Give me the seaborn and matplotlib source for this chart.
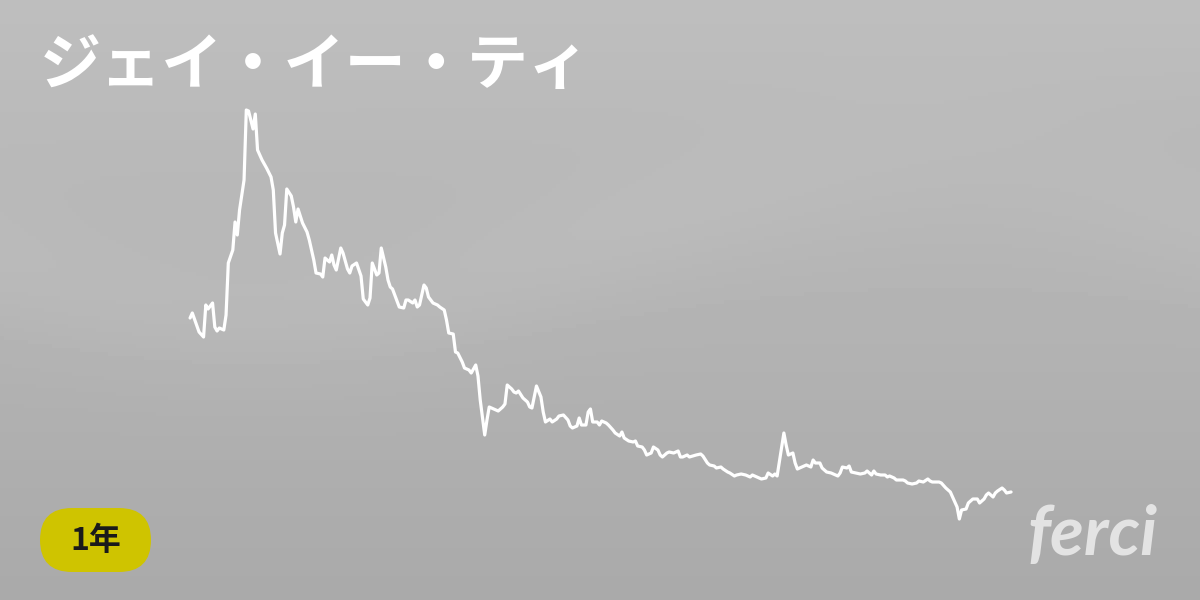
import numpy as np
import pandas as pd
import matplotlib
matplotlib.use("Agg")
import matplotlib.pyplot as plt
from matplotlib.patches import FancyBboxPatch
import seaborn as sns

# stock name, period badge and logo
title = "ジェイ・イー・ティ"
period = "1年"
logo = "ferci"

# calendar day within the year (0 = one year ago)
days = [0, 1, 4, 6, 7, 8, 10, 11, 12, 13, 15, 16, 17, 19, 20, 21, 22, 24, 25, 26,
        28, 29, 30, 32, 34, 36, 37, 38, 40, 41, 42, 43, 45, 46, 47, 48, 50, 52, 53, 55,
        56, 58, 59, 60, 62, 63, 64, 65, 67, 68, 70, 71, 72, 74, 76, 77, 79, 80, 81, 83,
        84, 85, 87, 88, 89, 90, 92, 93, 95, 96, 97, 99, 100, 101, 102, 104, 105, 106, 108, 110,
        111, 113, 114, 115, 117, 118, 119, 121, 122, 124, 125, 127, 128, 129, 131, 132, 133, 135, 137, 139,
        140, 141, 143, 144, 145, 146, 148, 150, 151, 152, 154, 156, 157, 158, 160, 161, 163, 164, 166, 168,
        169, 170, 172, 173, 174, 176, 177, 178, 179, 181, 182, 183, 185, 186, 188, 189, 191, 192, 193, 195,
        197, 198, 199, 201, 202, 203, 205, 206, 208, 209, 210, 212, 213, 215, 217, 218, 219, 221, 222, 225,
        227, 228, 230, 231, 233, 234, 236, 237, 239, 240, 242, 243, 245, 247, 249, 250, 252, 254, 256, 257,
        259, 260, 261, 264, 265, 266, 268, 269, 270, 272, 274, 276, 277, 278, 280, 281, 283, 285, 286, 288,
        289, 290, 292, 293, 294, 296, 298, 300, 301, 303, 304, 305, 307, 309, 310, 311, 313, 314, 317, 318,
        319, 321, 323, 324, 326, 328, 329, 330, 333, 334, 336, 338, 339, 341, 342, 343, 345, 346, 348, 350,
        351, 353, 354, 355, 357, 358, 359, 361, 362, 363, 365]

# closing price (relative units)
price = [282, 287, 268, 263, 295, 291, 297, 273, 269, 272, 270, 285, 337, 350, 378, 365, 390, 420, 490, 489,
         471, 486, 450, 440, 432, 423, 410, 367, 346, 367, 375, 411, 404, 393, 378, 391, 377, 368, 360, 340,
         327, 326, 323, 342, 338, 345, 335, 330, 352, 347, 331, 327, 334, 337, 324, 301, 295, 302, 337, 325,
         327, 352, 333, 320, 313, 311, 299, 293, 292, 300, 300, 297, 300, 293, 295, 315, 312, 303, 297, 295,
         293, 290, 280, 267, 266, 248, 247, 238, 232, 230, 227, 235, 224, 200, 165, 180, 193, 191, 189, 193,
         196, 215, 211, 208, 207, 209, 202, 198, 193, 192, 214, 203, 188, 178, 181, 178, 181, 184, 185, 180,
         174, 172, 174, 182, 175, 175, 188, 191, 178, 178, 175, 179, 177, 175, 170, 167, 164, 168, 162, 159,
         158, 159, 154, 153, 150, 145, 147, 153, 150, 145, 143, 147, 148, 147, 149, 143, 143, 145, 143, 145,
         146, 144, 137, 135, 134, 132, 133, 131, 128, 127, 124, 125, 126, 125, 123, 125, 123, 121, 122, 127,
         124, 126, 124, 167, 155, 145, 147, 137, 131, 133, 135, 133, 140, 137, 137, 132, 128, 127, 126, 124,
         127, 133, 132, 134, 128, 127, 126, 127, 129, 125, 129, 126, 125, 125, 123, 124, 122, 120, 120, 119,
         117, 116, 117, 119, 118, 121, 119, 118, 118, 117, 112, 108, 103, 93, 81, 90, 91, 97, 101, 101,
         97, 101, 105, 107, 103, 107, 109, 112, 110, 107, 108]

df = pd.DataFrame({"day": days, "price": price})

sns.set_theme(style="white")
plt.rcParams["font.family"] = ["Noto Sans CJK JP", "DejaVu Sans"]

fig = plt.figure(figsize=(12, 6), dpi=100)

# soft grey backdrop with a faint diagonal wave
bg = fig.add_axes([0, 0, 1, 1])
xx, yy = np.meshgrid(np.linspace(0, 1, 300), np.linspace(0, 1, 150))
shade = 0.745 - 0.08 * yy
shade += 0.018 * np.exp(-((yy - 0.40 - 0.12 * np.sin(xx * 5.5 + 0.4)) / 0.12) ** 2)
shade -= 0.012 * np.exp(-((xx - 0.85) / 0.25) ** 2 - ((yy - 0.28) / 0.12) ** 2)
bg.imshow(shade, cmap="gray", vmin=0, vmax=1, aspect="auto", extent=(0, 1, 1, 0))
bg.set_axis_off()

ax = fig.add_axes([0, 0, 1, 1])
ax.patch.set_alpha(0)
sns.lineplot(data=df, x="day", y="price", estimator=None, color="white",
             linewidth=2.3, ax=ax)
ax.set_xlim(-84.5, 449)
ax.set_ylim(0, 600)
ax.set_axis_off()

fig.text(40 / 1200, 1 - 84 / 600, title, color="white", fontsize=44,
         fontweight="bold", ha="left", va="baseline")

# period badge (pill)
pill = FancyBboxPatch((40 / 1200, 1 - 572 / 600), 111 / 1200, 64 / 600,
                      boxstyle="round,pad=0,rounding_size=0.0267",
                      transform=fig.transFigure, facecolor="#cfc400",
                      edgecolor="none", mutation_aspect=2)
fig.patches.append(pill)
fig.text(96 / 1200, 1 - 541 / 600, period, color="#1a1a1a", fontsize=23,
         fontweight="bold", ha="center", va="center")

fig.text(1092 / 1200, 1 - 536 / 600, logo, color="#e3e3e3", fontsize=50,
         fontweight="bold", style="italic", family=["Lato", "DejaVu Sans"],
         ha="center", va="center")

fig.savefig("out.png", dpi=100)
